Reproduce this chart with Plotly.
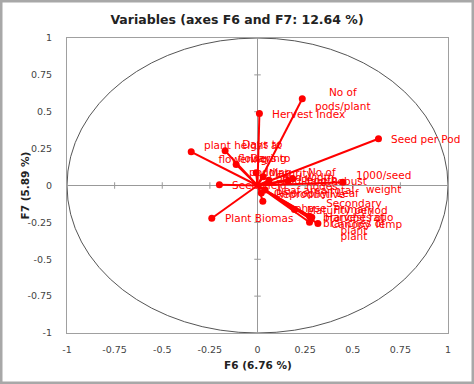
import plotly.graph_objects as go

# ---- data (correlation circle, F6 vs F7) ----
var_names = [
    "Seed per Pod", "No of<br>pods/plant", "Hervest Index", "plant height at<br>flowering",
    "Days to<br>flowering", "Days to<br>podding", "Maturity", "No of<br>nodes",
    "Seed yield", "Plant Biomas", "1000/seed<br>weight", "Plant Robust",
    "Pod length", "Chlorophyll Leaf", "Reproductive<br>phase", "Leaf area total",
    "Maturity period", "Secondary<br>branches of<br>plant", "Primary<br>branches of<br>plant",
    "Canopy Temp", "Harvest ratio", "Seed width",
]
f6 = [0.635, 0.235, 0.010, -0.348, -0.170, -0.112, -0.007, 0.185, -0.200, -0.240, 0.448, 0.160,
      0.060, 0.020, 0.028, 0.040, 0.194, 0.273, 0.273, 0.317, 0.285, 0.030]
f7 = [0.317, 0.588, 0.488, 0.228, 0.235, 0.142, 0.086, 0.045, 0.005, -0.222, 0.022, 0.030,
      0.035, -0.050, -0.106, -0.030, -0.163, -0.208, -0.249, -0.258, -0.215, 0.060]
tick_vals = [-1, -0.75, -0.5, -0.25, 0, 0.25, 0.5, 0.75, 1]
tick_text = ["-1", "-0.75", "-0.5", "-0.25", "0", "0.25", "0.5", "0.75", "1"]

RED = "#ff0000"
fig = go.Figure()

# vectors from origin
lx, ly = [], []
for x, y in zip(f6, f7):
    lx += [0, x, None]
    ly += [0, y, None]
fig.add_trace(go.Scatter(x=lx, y=ly, mode="lines", line=dict(color=RED, width=2),
                         hoverinfo="skip", showlegend=False))
fig.add_trace(go.Scatter(x=f6, y=f7, mode="markers", marker=dict(color=RED, size=7),
                         showlegend=False))

shapes = []
# unit circle
shapes.append(dict(type="circle", xref="x", yref="y", x0=-1, y0=-1, x1=1, y1=1,
                   line=dict(color="#555555", width=1), layer="below"))
# zero lines
shapes.append(dict(type="line", xref="x", yref="y", x0=-1, x1=1, y0=0, y1=0,
                   line=dict(color="#999999", width=1), layer="below"))
shapes.append(dict(type="line", xref="x", yref="y", x0=0, x1=0, y0=-1, y1=1,
                   line=dict(color="#999999", width=1), layer="below"))
# small tick marks on zero lines
for t in tick_vals:
    if t in (-1, 0, 1):
        continue
    shapes.append(dict(type="line", xref="x", yref="y", x0=t, x1=t, y0=-0.022, y1=0.022,
                       line=dict(color="#999999", width=1), layer="below"))
    shapes.append(dict(type="line", xref="x", yref="y", x0=-0.017, x1=0.017, y0=t, y1=t,
                       line=dict(color="#999999", width=1), layer="below"))
# outer picture frame
shapes.append(dict(type="rect", xref="paper", yref="paper",
                   x0=-67 / 381, x1=1 + 26 / 381, y0=-51 / 295, y1=1 + 38 / 295,
                   line=dict(color="#a8a8a8", width=5)))

annotations = []
for x, y, n in zip(f6, f7, var_names):
    annotations.append(dict(x=x, y=y, xref="x", yref="y", text=n, showarrow=False,
                            xanchor="left", yanchor="middle", xshift=11, align="center",
                            font=dict(family="DejaVu Sans", size=10.5, color=RED)))
annotations.append(dict(x=0.5, y=-32 / 295, xref="paper", yref="paper", text="<b>F6 (6.76 %)</b>",
                        showarrow=False, xanchor="center", yanchor="middle",
                        font=dict(family="DejaVu Sans", size=10.5, color="#222222")))
annotations.append(dict(x=-43 / 381, y=0.5, xref="paper", yref="paper", text="<b>F7 (5.89 %)</b>",
                        showarrow=False, xanchor="center", yanchor="middle", textangle=-90,
                        font=dict(family="DejaVu Sans", size=10.5, color="#222222")))

axis_common = dict(range=[-1, 1], tickvals=tick_vals, ticktext=tick_text, showgrid=False,
                   zeroline=False, showline=True, mirror=True, linecolor="#a0a0a0", linewidth=1,
                   ticks="outside", tickcolor="rgba(0,0,0,0)", automargin=False,
                   tickfont=dict(family="DejaVu Sans", size=9.5, color="#444444"))

fig.update_layout(
    width=474, height=384,
    margin=dict(l=67, r=26, t=38, b=51, autoexpand=False),
    paper_bgcolor="white", plot_bgcolor="white",
    title=dict(text="<b>Variables (axes F6 and F7: 12.64 %)</b>", x=0.5, xanchor="center",
               y=1 - 20 / 384, yanchor="middle",
               font=dict(family="DejaVu Sans", size=12.5, color="#222222")),
    xaxis=dict(**axis_common, ticklen=8),
    yaxis=dict(**axis_common, ticklen=12),
    shapes=shapes, annotations=annotations,
    showlegend=False,
)

fig.write_html("out.html", config={"displayModeBar": False},
               post_script="document.body.style.margin='0px';")
